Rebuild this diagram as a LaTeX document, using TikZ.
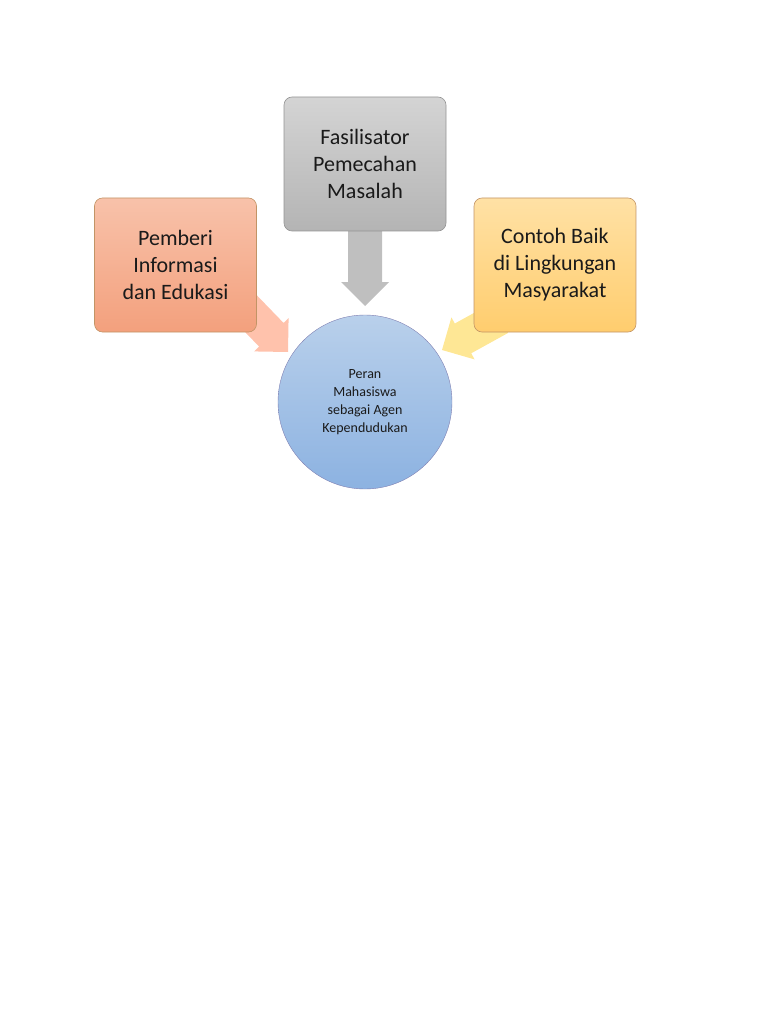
\documentclass[tikz,border=0pt]{standalone}
\usepackage{fontspec}
\setmainfont{Carlito}
\usetikzlibrary{calc}
\definecolor{txt}{HTML}{1A1A1A}
\tikzset{
  rbox/.style={draw=#1!60!black!60, rounded corners=8pt, minimum width=162pt, minimum height=134pt,
    align=center, font=\fontsize{22}{27}\selectfont, text=txt, inner sep=0pt, line width=0.6pt},
}
\newcommand{\blockarrow}[3]{%
  \coordinate (bC) at ($(#2)!24pt!(#1)$);
  \fill[#3] ($(#1)!17pt!90:(#2)$) -- ($(bC)!17pt!-90:(#1)$) -- ($(bC)!24pt!-90:(#1)$) -- (#2)
     -- ($(bC)!24pt!90:(#1)$) -- ($(bC)!17pt!90:(#1)$) -- ($(#1)!17pt!-90:(#2)$) -- cycle;}
\begin{document}
\begin{tikzpicture}[x=1pt,y=-1pt]
\useasboundingbox (0,0) rectangle (768,1024);
\coordinate (la) at (230,292); \coordinate (lb) at (288,352);
\coordinate (ma) at (365,225); \coordinate (mb) at (365,306);
\coordinate (ra) at (500,318); \coordinate (rb) at (442,350);
\blockarrow{la}{lb}{orange!30!red!25!white!90!orange}
\blockarrow{ma}{mb}{black!25}
\blockarrow{ra}{rb}{yellow!60!orange!40!white}
\node[rbox=orange, top color={rgb,255:red,248;green,194;blue,170}, bottom color={rgb,255:red,243;green,160;blue,125}] (left) at (175.5,265) {Pemberi\\Informasi\\dan Edukasi};
\node[rbox=gray, top color={rgb,255:red,212;green,212;blue,212}, bottom color={rgb,255:red,180;green,180;blue,180}] (mid) at (365,164) {Fasilisator\\Pemecahan\\Masalah};
\node[rbox=orange, top color={rgb,255:red,255;green,225;blue,165}, bottom color={rgb,255:red,255;green,205;blue,110}] (right) at (555,265) {Contoh Baik\\di Lingkungan\\Masyarakat};
\node[circle, draw=blue!40!black!50, minimum size=174pt, inner sep=0pt, align=center,
  top color={rgb,255:red,185;green,208;blue,235}, bottom color={rgb,255:red,140;green,178;blue,225},
  font=\fontsize{14}{18}\selectfont, text=txt] (circ) at (365,402) {Peran\\Mahasiswa\\sebagai Agen\\Kependudukan};
\end{tikzpicture}
\end{document}
